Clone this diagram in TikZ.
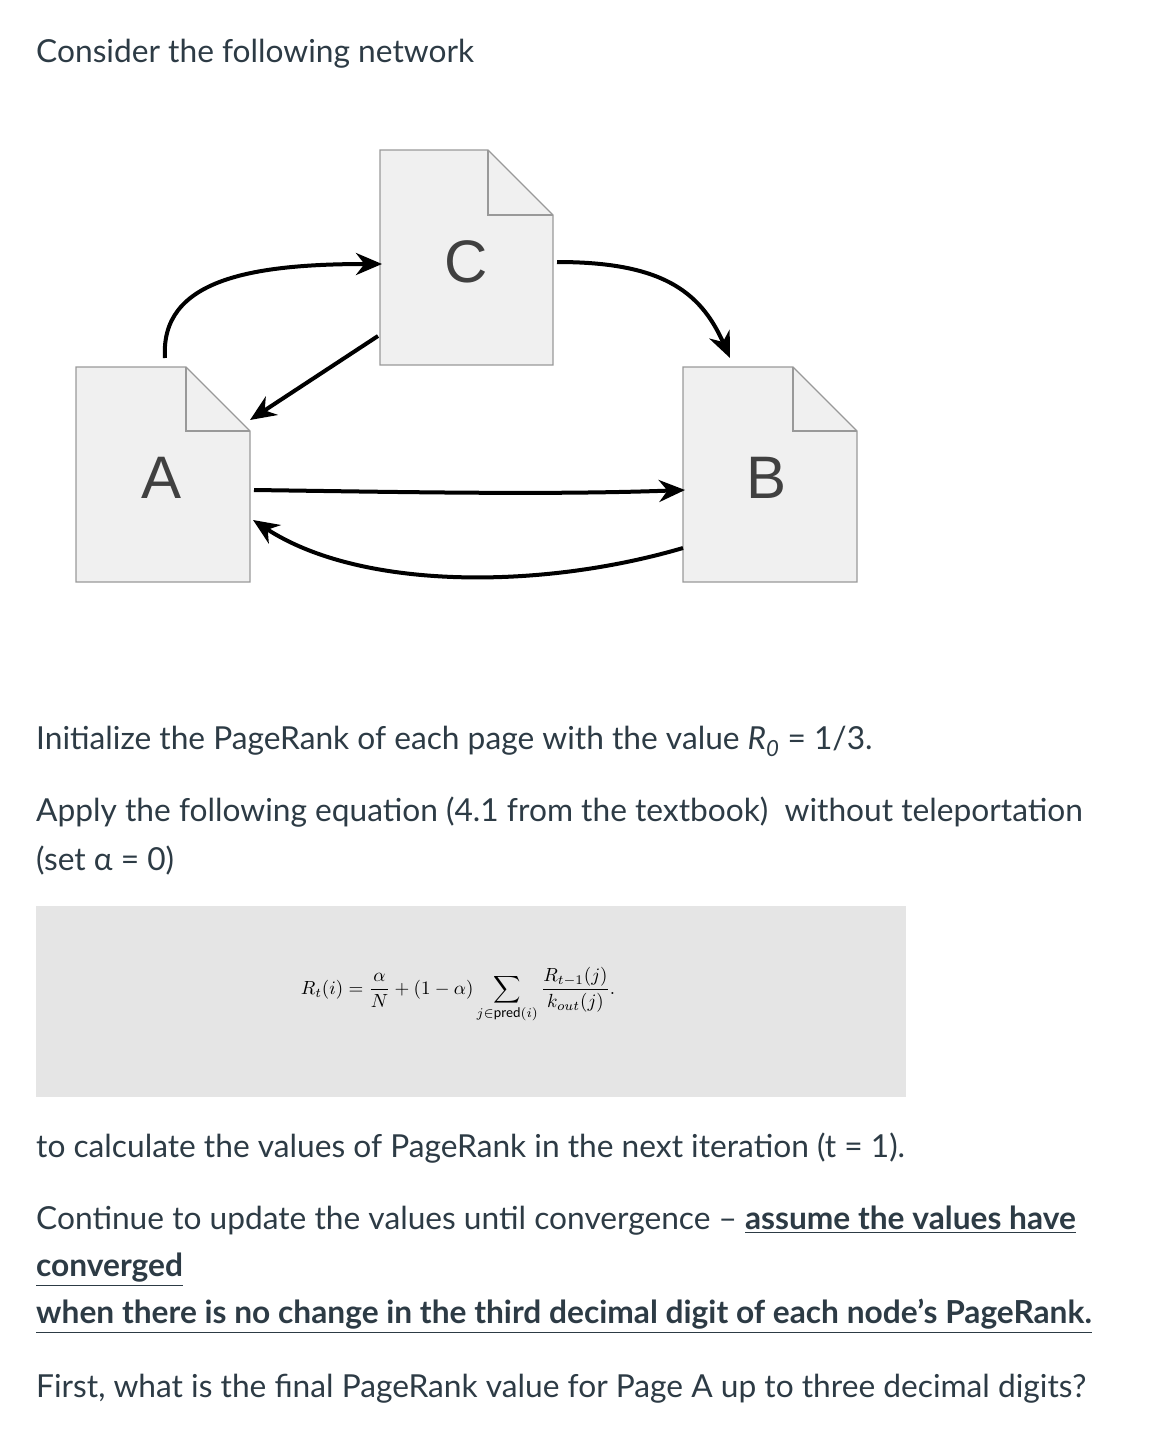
\documentclass[tikz,border=0pt]{standalone}
\usepackage{amsmath}
\usepackage{fontspec}
\setmainfont{Lato}
\newfontfamily\docfont{Liberation Sans}
\usetikzlibrary{arrows.meta}
\definecolor{txt}{HTML}{2D3B45}
\tikzset{
  doc/.style={fill=black!6,draw=black!40,line width=1.4pt},
  lnk/.style={line width=4pt,-{Stealth[length=26pt,width=22pt]}},
  para/.style={anchor=base west,inner sep=0pt,text=txt,font=\fontsize{31.7}{38}\selectfont},
  letter/.style={font=\docfont\fontsize{60}{70}\selectfont,text=black!75}
}
\begin{document}
\begin{tikzpicture}[x=1pt,y=-1pt]
\useasboundingbox (0,0) rectangle (1156,1454);
% documents
\draw[doc] (380,150) -- (488,150) -- (553,215) -- (553,365) -- (380,365) -- cycle;
\draw[black!40,line width=1.4pt] (488,150) -- (488,215) -- (553,215);
\draw[doc] (76,367) -- (186,367) -- (250,431) -- (250,582) -- (76,582) -- cycle;
\draw[black!40,line width=1.4pt] (186,367) -- (186,431) -- (250,431);
\draw[doc] (683,367) -- (793,367) -- (857,431) -- (857,582) -- (683,582) -- cycle;
\draw[black!40,line width=1.4pt] (793,367) -- (793,431) -- (857,431);
\node[letter] (C) at (466,262) {C};
\node[letter] (A) at (162,478) {A};
\node[letter] (B) at (767,478) {B};
\coordinate (a1) at (165,358); \coordinate (c1) at (382,264);
\coordinate (c2) at (557,262); \coordinate (b1) at (730,358);
\coordinate (c3) at (378,336); \coordinate (a2) at (250,420);
\coordinate (a3) at (254,490); \coordinate (b2) at (685,490);
\coordinate (b3) at (683,548); \coordinate (a4) at (253,520);
\draw[lnk] (a1) .. controls (160,280) and (250,264) .. (c1);
\draw[lnk] (c2) .. controls (660,262) and (700,290) .. (b1);
\draw[lnk] (c3) -- (a2);
\draw[lnk] (a3) .. controls (400,492) and (550,495) .. (b2);
\draw[lnk] (b3) .. controls (540,590) and (360,590) .. (a4);
% text
\node[para] (t1) at (36,62) {Consider the following network};
\node[para] (t2) at (36,749) {Initialize the PageRank of each page with the value \textit{R\textsubscript{0}} = 1/3.};
\node[para] (t3) at (36,821) {Apply the following equation (4.1 from the textbook) \ without teleportation};
\node[para] (t4) at (36,870) {(set α = 0)};
\fill[black!10] (36,906) rectangle (906,1097);
\node[anchor=center,inner sep=0pt,scale=1.9] (eq) at (458,995)
 {$R_t(i)=\dfrac{\alpha}{N}+(1-\alpha)\displaystyle\sum_{j\in\mathrm{pred}(i)}\dfrac{R_{t-1}(j)}{k_{out}(j)}.$};
\node[para] (t5) at (36,1157) {to calculate the values of PageRank in the next iteration (t = 1).};
\node[para] (t6) at (36,1229) {Continue to update the values until convergence -- \textbf{\underline{assume the values have}}};
\node[para] (t7) at (36,1276) {\textbf{\underline{converged}}};
\node[para] (t8) at (36,1323) {\textbf{\underline{when there is no change in the third decimal digit of each node’s PageRank.}}};
\node[para] (t9) at (36,1397) {First, what is the final PageRank value for Page A up to three decimal digits?};
\end{tikzpicture}
\end{document}
